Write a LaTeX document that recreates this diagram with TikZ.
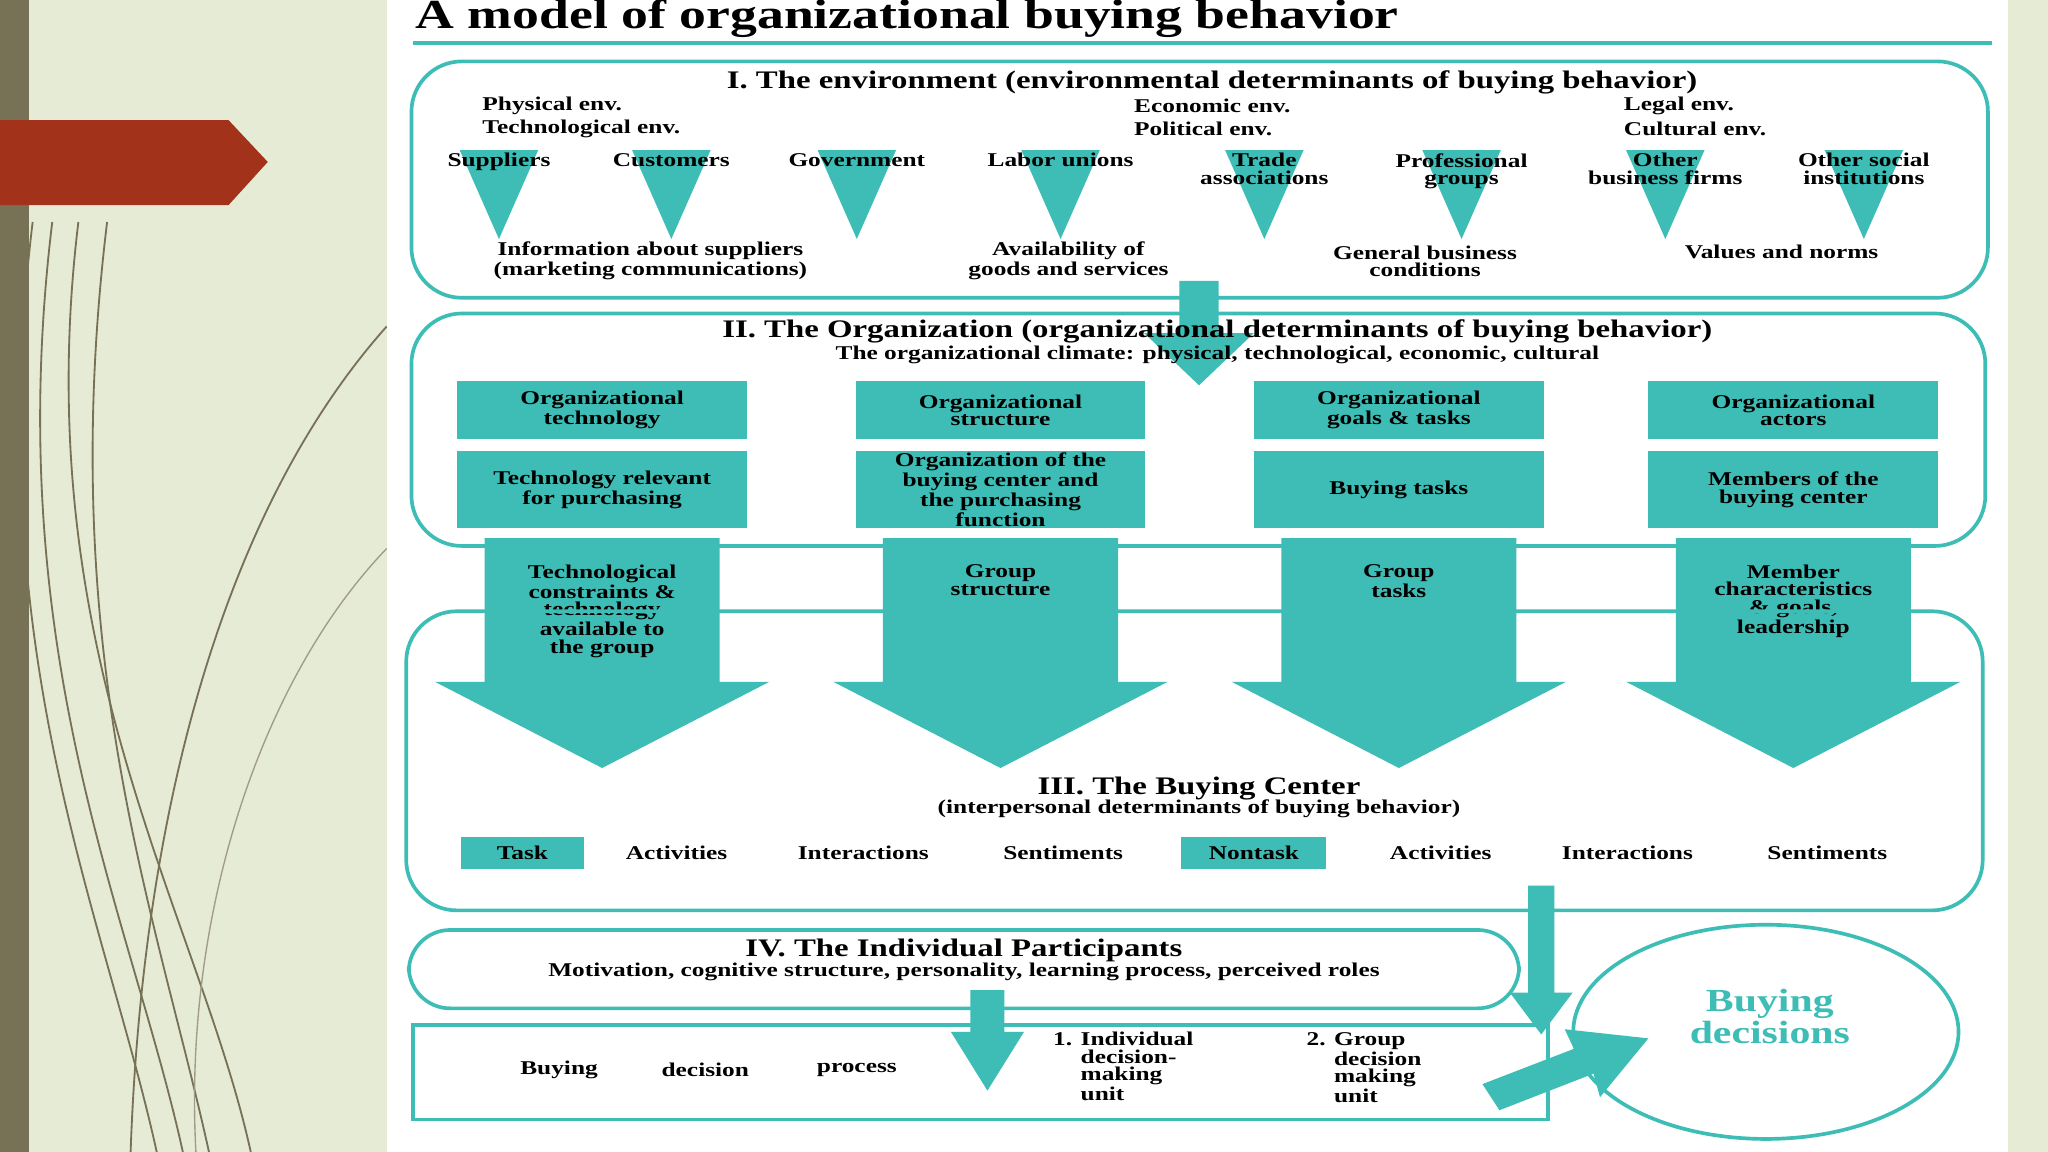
\documentclass[tikz,border=0pt]{standalone}
\usepackage{fontspec}
\setmainfont{Liberation Serif}[FakeStretch=1.3]
\usetikzlibrary{shapes.geometric}
\definecolor{teal1}{HTML}{3DBDB5}
\definecolor{olive}{HTML}{777155}
\definecolor{paper}{HTML}{E6EBD6}
\definecolor{brick}{HTML}{A3321A}
\begin{document}
\begin{tikzpicture}[x=0.02cm,y=-0.02cm,
  lbl/.style={font=\fontsize{8.5}{7.6}\selectfont\bfseries,align=center,inner sep=0},
  head/.style={font=\fontsize{11}{9.5}\selectfont\bfseries,align=center,inner sep=0},
  frame/.style={draw=teal1,line width=1.6pt,rounded corners=22},
  tbox/.style={fill=teal1,minimum width=222*0.02cm,inner sep=0,align=center,font=\fontsize{8.5}{7.6}\selectfont\bfseries}]
\useasboundingbox (0,0) rectangle (1568,882);
% background
\fill[paper] (0,0) rectangle (1568,882);
\fill[olive] (0,0) rectangle (22,882);
\fill[white] (296,0) rectangle (1537,882);
\fill[brick] (0,92) -- (175,92) -- (205,124) -- (175,157) -- (0,157) -- cycle;
\foreach \a/\b in {82/150,60/182,40/130,25/110}
  \draw[olive,line width=0.8pt] (\a,170) .. controls (\a-40,500) and (\b-30,700) .. (\b+10,882);
\draw[olive,line width=0.8pt] (296,250) .. controls (180,380) and (110,600) .. (100,882);
\draw[olive!70,line width=0.6pt] (296,420) .. controls (200,520) and (140,700) .. (150,882);
% title
\node[anchor=west,inner sep=0,font=\fontsize{18}{18}\selectfont\bfseries] (title) at (318,14) {A model of organizational buying behavior};
\draw[teal1,line width=1.6pt] (316,33) -- (1525,33);
% I. environment
\draw[frame] (315,47) rectangle (1522,228);
\node[head] (envt) at (928,63) {I. The environment (environmental determinants of buying behavior)};
\node[lbl,anchor=west] (phys) at (369,81) {Physical env.};
\node[lbl,anchor=west] (tech) at (369,99) {Technological env.};
\node[lbl,anchor=west] (econ) at (868,81) {Economic env.};
\node[lbl,anchor=west] (poli) at (868,99) {Political env.};
\node[lbl,anchor=west] (legal) at (1243,81) {Legal env.};
\node[lbl,anchor=west] (cult) at (1243,99) {Cultural env.};
\foreach \px/\txt/\nm in {382/Suppliers/s1,514/Customers/s2,656/Government/s3,812/Labor unions/s4,968/Trade\\associations/s5,1119/Professional\\groups/s6,1275/Other\\business firms/s7,1427/Other social\\institutions/s8}{
  \fill[teal1] (\px-30,115) -- (\px+30,115) -- (\px,183) -- cycle;
  \node[lbl,anchor=north] (\nm) at (\px,117) {\txt};
}
\node[lbl] (info) at (498,200) {Information about suppliers\\(marketing communications)};
\node[lbl] (avail) at (818,200) {Availability of\\goods and services};
\node[lbl] (gen) at (1091,200) {General business\\conditions};
\node[lbl] (vals) at (1364,193) {Values and norms};
% arrow I -> II
\fill[teal1] (903,215) -- (933,215) -- (933,255) -- (960,255) -- (918,295) -- (876,255) -- (903,255) -- cycle;
% II. organization
\draw[frame] (315,240) rectangle (1520,418);
\node[head] (org) at (932,254) {II. The Organization (organizational determinants of buying behavior)};
\node[lbl] (clim) at (932,272) {The organizational climate: physical, technological, economic, cultural};
\foreach \px/\ta/\tb/\tc/\nm in {461/{Organizational\\technology}/{Technology relevant\\for purchasing}/{Technological\\constraints \&\\technology\\available to\\the group}/c1,
  766/{Organizational\\structure}/{Organization of the\\buying center and\\the purchasing\\function}/{Group\\structure}/c2,
  1071/{Organizational\\goals \& tasks}/{Buying tasks}/{Group\\tasks}/c3,
  1373/{Organizational\\actors}/{Members of the\\buying center}/{Member\\characteristics\\\& goals,\\leadership}/c4}{
  \node[tbox,minimum height=44*0.02cm] (\nm-top) at (\px,314) {\ta};
  \node[tbox,minimum height=59*0.02cm] (\nm-mid) at (\px,375) {\tb};
  \fill[teal1] (\px-90,412) -- (\px+90,412) -- (\px+90,522) -- (\px+128,522) -- (\px,588) -- (\px-128,522) -- (\px-90,522) -- cycle;
  \node[lbl,anchor=north] (\nm-arr) at (\px,432) {\tc};
}
% III. buying center
\draw[frame] (311,468) rectangle (1518,697);
\node[head] (bc) at (918,604) {III. The Buying Center};
\node[lbl] (bcsub) at (918,619) {(interpersonal determinants of buying behavior)};
\node[fill=teal1,lbl,minimum width=94*0.02cm,minimum height=25*0.02cm] (task) at (400,653) {Task};
\node[fill=teal1,lbl,minimum width=111*0.02cm,minimum height=25*0.02cm] (nontask) at (960,653) {Nontask};
\foreach \px/\txt/\nm in {518/Activities/a1,661/Interactions/i1,814/Sentiments/e1,1103/Activities/a2,1246/Interactions/i2,1399/Sentiments/e2}
  \node[lbl] (\nm) at (\px,653) {\txt};
% arrow III -> decisions
\fill[teal1] (1170,678) -- (1190,678) -- (1190,760) -- (1204,760) -- (1180,792) -- (1156,760) -- (1170,760) -- cycle;
% IV. participants
\draw[frame,rounded corners=18] (313,712) rectangle (1163,772);
\node[head] (ind) at (738,728) {IV. The Individual Participants};
\node[lbl] (mot) at (738,744) {Motivation, cognitive structure, personality, learning process, perceived roles};
\draw[teal1,line width=1.6pt] (316,785) rectangle (1185,857);
\node[lbl] (buy) at (428,819) {Buying};
\node[lbl] (dec) at (540,819) {decision};
\node[lbl] (proc) at (656,819) {process};
\fill[teal1] (743,758) -- (769,758) -- (769,790) -- (784,790) -- (756,835) -- (728,790) -- (743,790) -- cycle;
\node[lbl,align=left,anchor=north west] (unit1) at (806,790) {1. Individual\\\phantom{1. }decision-\\\phantom{1. }making\\\phantom{1. }unit};
\node[lbl,align=left,anchor=north west] (unit2) at (1000,790) {2. Group\\\phantom{2. }decision\\\phantom{2. }making\\\phantom{2. }unit};
% buying decisions
\node[ellipse,draw=teal1,line width=1.6pt,minimum width=295*0.02cm,minimum height=164*0.02cm] (bd) at (1352,790) {};
\node[head,text=teal1,font=\fontsize{14}{12}\selectfont\bfseries] (bdt) at (1355,778) {Buying\\decisions};
\fill[teal1] (1135,830) -- (1205,803) -- (1198,788) -- (1262,795) -- (1225,840) -- (1220,822) -- (1148,850) -- cycle;
\end{tikzpicture}
\end{document}
